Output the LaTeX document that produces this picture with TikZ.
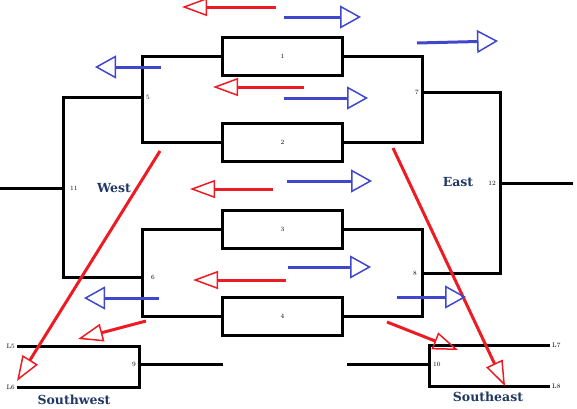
\documentclass[tikz,border=0pt]{standalone}
\usepackage{fontspec}
\newfontfamily\regionfont{DejaVu Serif}
\usetikzlibrary{arrows.meta, positioning}
\definecolor{paintred}{RGB}{237,28,36}
\definecolor{paintblue}{RGB}{63,72,204}
\definecolor{regionnavy}{RGB}{31,56,100}

\begin{document}
\begin{tikzpicture}[x=1pt, y=-1pt,
  line/.style={line width=3pt},
  gamebox/.style={draw, line width=3pt, minimum width=120pt, minimum height=38pt, inner sep=0pt, font=\fontsize{6.5}{7}\selectfont},
  num/.style={font=\fontsize{6.5}{7}\selectfont, inner sep=1pt},
  region/.style={font=\regionfont\bfseries\fontsize{12.5}{14}\selectfont, text=regionnavy},
  redarrow/.style={paintred, line width=3pt, -{Triangle[open, length=25pt, width=18pt, line width=1.5pt]}},
  bluearrow/.style={paintblue, line width=3pt, -{Triangle[open, length=21pt, width=23pt, line width=1.5pt]}}]
\useasboundingbox (0,0) rectangle (577,408);

% First round
\node[gamebox] (g1) at (282.5,56.5) {1};
\node[gamebox] (g2) at (282.5,142.5) {2};
\node[gamebox] (g3) at (282.5,229.5) {3};
\node[gamebox] (g4) at (282.5,316) {4};

% Bracket points
\coordinate (w5) at (142,97);
\coordinate (w6) at (142,277);
\coordinate (w11) at (63,188);
\coordinate (out11) at (0,188);
\coordinate (e7) at (422,92);
\coordinate (e8) at (422,273);
\coordinate (e12) at (500,183);
\coordinate (out12) at (573,183);
\coordinate (l5) at (17,346);
\coordinate (l6) at (17,387);
\coordinate (sw9) at (139,364);
\coordinate (out9) at (223,364);
\coordinate (l7) at (550,345);
\coordinate (l8) at (550,386);
\coordinate (se10) at (429,364);
\coordinate (in10) at (347,364);

% West side
\draw[line] (g1.west) -| (w5) |- (g2.west);
\draw[line] (g3.west) -| (w6) |- (g4.west);
\draw[line] (w5) -| (w11) |- (w6);
\draw[line] (w11) -- (out11);

% East side
\draw[line] (g1.east) -| (e7) |- (g2.east);
\draw[line] (g3.east) -| (e8) |- (g4.east);
\draw[line] (e7) -| (e12) |- (e8);
\draw[line] (e12) -- (out12);

% Losers brackets
\draw[line] (l5) -| (sw9) |- (l6);
\draw[line] (sw9) -- (out9);
\draw[line] (l7) -| (se10) |- (l8);
\draw[line] (in10) -- (se10);

% Game numbers
\node[num, right=3pt of w5] (n5) {5};
\node[num, right=8pt of w6] (n6) {6};
\node[num, right=6pt of w11] (n11) {11};
\node[num, left=2pt of e7] (n7) {7};
\node[num, left=4pt of e8] (n8) {8};
\node[num, left=3pt of e12] (n12) {12};
\node[num, left=2pt of sw9] (n9) {9};
\node[num, right=3pt of se10] (n10) {10};
\node[num, left=1pt of l5] (nl5) {L5};
\node[num, left=1pt of l6] (nl6) {L6};
\node[num, right=1pt of l7] (nl7) {L7};
\node[num, right=1pt of l8] (nl8) {L8};

% Regions
\node[region] (west) at (114,188) {West};
\node[region] (east) at (458,182) {East};
\node[region] (southwest) at (74,400) {Southwest};
\node[region] (southeast) at (488,397) {Southeast};

% Losers move left, winners move right
\foreach \xa/\ya/\xb/\yb in {276/7/182/7, 304/87/213/87, 273/189/190/189, 286/280/193/280,
    146/321/78/339, 387/322/458/350, 160/151/17/381, 393/148/505/386}
  \draw[redarrow] (\xa,\ya) -- (\xb,\yb);
\foreach \xa/\ya/\xb/\yb in {284/17/361/17, 417/43/498/41, 161/67/95/67, 284/98/368/98,
    287/181/372/181, 288/267/371/267, 159/298/84/298, 397/297/466/297}
  \draw[bluearrow] (\xa,\ya) -- (\xb,\yb);
\end{tikzpicture}
\end{document}
